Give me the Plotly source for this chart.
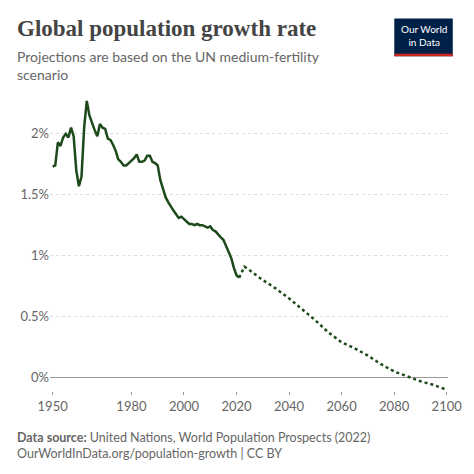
import plotly.graph_objects as go

hist_years = list(range(1950, 2022))
hist_vals = [1.73,1.74,1.93,1.90,1.97,2.00,1.97,2.05,1.98,1.70,1.57,1.65,2.05,2.27,2.15,2.08,2.03,1.98,2.08,2.05,
             2.04,1.96,1.95,1.91,1.86,1.79,1.77,1.74,1.74,1.76,1.78,1.80,1.83,1.77,1.77,1.78,1.82,1.82,1.77,1.76,
             1.74,1.62,1.55,1.48,1.44,1.40,1.37,1.34,1.31,1.32,1.30,1.28,1.26,1.26,1.25,1.26,1.25,1.25,1.24,1.23,
             1.24,1.21,1.20,1.17,1.15,1.13,1.08,1.03,0.98,0.90,0.84,0.82]
proj_years = [2021,2022,2023,2025,2030,2035,2040,2045,2050,2055,2060,2065,2070,2075,2080,2085,2090,2095,2100]
proj_vals = [0.82,0.86,0.91,0.88,0.80,0.73,0.65,0.56,0.47,0.37,0.29,0.24,0.18,0.11,0.05,0.01,-0.03,-0.06,-0.10]
x_ticks = [1950,1980,2000,2020,2040,2060,2080,2100]
y_ticks = [0,0.5,1,1.5,2]
y_labels = ["0%","0.5%","1%","1.5%","2%"]

col = "#1d4a1a"
fig = go.Figure()
fig.add_trace(go.Scatter(x=hist_years, y=hist_vals, mode="lines", line=dict(color=col, width=2.5)))
fig.add_trace(go.Scatter(x=proj_years, y=proj_vals, mode="lines", line=dict(color=col, width=2.5, dash="dot")))

fig.update_layout(
    width=466, height=474, showlegend=False, plot_bgcolor="white", paper_bgcolor="white",
    margin=dict(l=42, r=20, t=88, b=91),
    font=dict(family="Lato", color="#666"),
    xaxis=dict(range=[1949, 2100.5], tickvals=x_ticks, showgrid=False, zeroline=False,
               ticks="outside", ticklen=3, tickcolor="#999", tickfont=dict(size=13, color="#666")),
    yaxis=dict(range=[-0.11, 2.31], tickvals=y_ticks, ticktext=y_labels, showgrid=True,
               gridcolor="#ddd", griddash="dot", zeroline=True, zerolinecolor="#999", zerolinewidth=1,
               tickfont=dict(size=13, color="#666"), ticksuffix=" "),
)
fig.add_annotation(xref="paper", yref="paper", x=-0.088, y=1.278, xanchor="left", yanchor="top", showarrow=False,
                   text="<b>Global population growth rate</b>", font=dict(family="Liberation Serif", size=23, color="#444"))
fig.add_annotation(xref="paper", yref="paper", x=-0.088, y=1.168, xanchor="left", yanchor="top", showarrow=False, align="left",
                   text="Projections are based on the UN medium-fertility<br>scenario", font=dict(size=14, color="#666"))
fig.add_shape(type="rect", xref="paper", yref="paper", x0=0.865, x1=1.012, y0=1.135, y1=1.263, fillcolor="#002147", line_width=0)
fig.add_shape(type="rect", xref="paper", yref="paper", x0=0.865, x1=1.012, y0=1.135, y1=1.143, fillcolor="#ce261e", line_width=0)
fig.add_annotation(xref="paper", yref="paper", x=0.9385, y=1.205, xanchor="center", yanchor="middle", showarrow=False,
                   text="Our World<br>in Data", font=dict(size=10, color="white"))
fig.add_annotation(xref="paper", yref="paper", x=-0.088, y=-0.125, xanchor="left", yanchor="top", showarrow=False, align="left",
                   text="<b>Data source:</b> United Nations, World Population Prospects (2022)<br>OurWorldInData.org/population-growth | CC BY",
                   font=dict(size=12.5, color="#666"))
fig.write_html("out.html")
